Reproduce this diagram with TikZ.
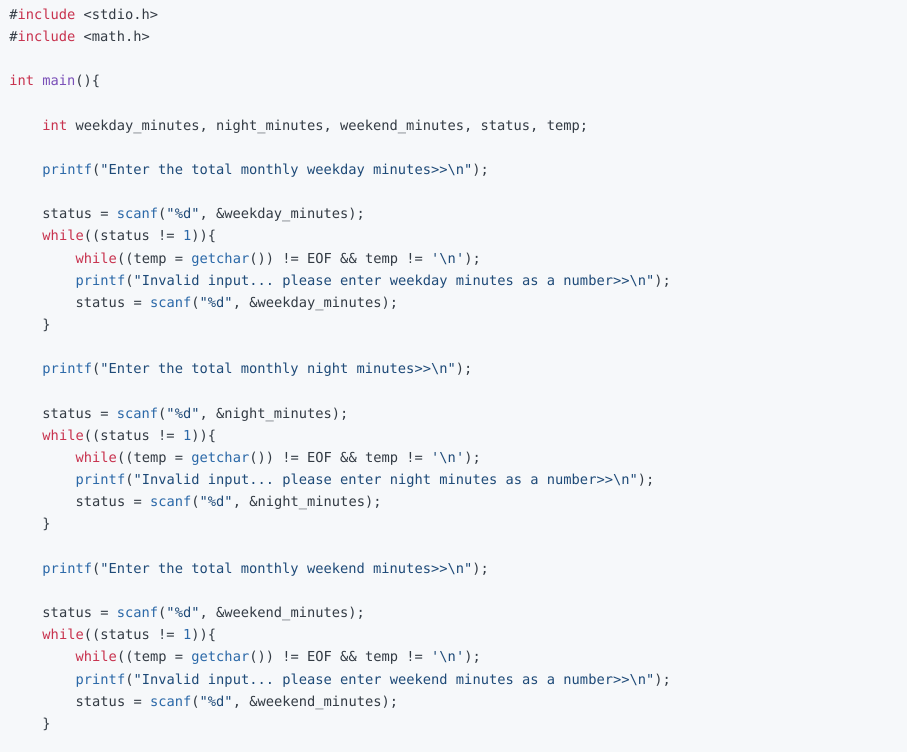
\documentclass[tikz,border=0pt]{standalone}
\usepackage{fontspec}
\setmonofont{DejaVu Sans Mono}
\definecolor{bg}{HTML}{F6F8FA}
\definecolor{txt}{HTML}{333B44}
\definecolor{kwc}{HTML}{C8324E}
\definecolor{fnc}{HTML}{2A68A8}
\definecolor{stc}{HTML}{1E4A78}
\definecolor{puc}{HTML}{7A4FB8}
\newcommand\kw[1]{\textcolor{kwc}{#1}}
\newcommand\fn[1]{\textcolor{fnc}{#1}}
\newcommand\st[1]{\textcolor{stc}{#1}}
\newcommand\pu[1]{\textcolor{puc}{#1}}
\newcommand\bs{\textbackslash}
\begin{document}
\begin{tikzpicture}[x=0.75pt,y=-0.75pt,
  codeline/.style={anchor=base west,inner sep=0pt,text=txt,font=\ttfamily\fontsize{10.3}{12}\selectfont}]
\fill[bg] (0,0) rectangle (907,752);
\useasboundingbox (0,0) rectangle (907,752);
\def\L#1#2#3{\node[codeline] (l#1) at ({9+8.3*#2},{19.5+22.15*#1}) {#3};}
\L{0}{0}{\#\kw{include} <stdio.h>}
\L{1}{0}{\#\kw{include} <math.h>}
\L{3}{0}{\kw{int} \pu{main}()\{}
\L{5}{4}{\kw{int} weekday\_minutes, night\_minutes, weekend\_minutes, status, temp;}
\L{7}{4}{\fn{printf}(\st{"Enter the total monthly weekday minutes>>\bs n"});}
\L{9}{4}{status = \fn{scanf}(\st{"\%d"}, \&weekday\_minutes);}
\L{10}{4}{\kw{while}((status != \fn{1}))\{}
\L{11}{8}{\kw{while}((temp = \fn{getchar}()) != EOF \&\& temp != \st{'\bs n'});}
\L{12}{8}{\fn{printf}(\st{"Invalid input... please enter weekday minutes as a number>>\bs n"});}
\L{13}{8}{status = \fn{scanf}(\st{"\%d"}, \&weekday\_minutes);}
\L{14}{4}{\}}
\L{16}{4}{\fn{printf}(\st{"Enter the total monthly night minutes>>\bs n"});}
\L{18}{4}{status = \fn{scanf}(\st{"\%d"}, \&night\_minutes);}
\L{19}{4}{\kw{while}((status != \fn{1}))\{}
\L{20}{8}{\kw{while}((temp = \fn{getchar}()) != EOF \&\& temp != \st{'\bs n'});}
\L{21}{8}{\fn{printf}(\st{"Invalid input... please enter night minutes as a number>>\bs n"});}
\L{22}{8}{status = \fn{scanf}(\st{"\%d"}, \&night\_minutes);}
\L{23}{4}{\}}
\L{25}{4}{\fn{printf}(\st{"Enter the total monthly weekend minutes>>\bs n"});}
\L{27}{4}{status = \fn{scanf}(\st{"\%d"}, \&weekend\_minutes);}
\L{28}{4}{\kw{while}((status != \fn{1}))\{}
\L{29}{8}{\kw{while}((temp = \fn{getchar}()) != EOF \&\& temp != \st{'\bs n'});}
\L{30}{8}{\fn{printf}(\st{"Invalid input... please enter weekend minutes as a number>>\bs n"});}
\L{31}{8}{status = \fn{scanf}(\st{"\%d"}, \&weekend\_minutes);}
\L{32}{4}{\}}
\end{tikzpicture}
\end{document}
